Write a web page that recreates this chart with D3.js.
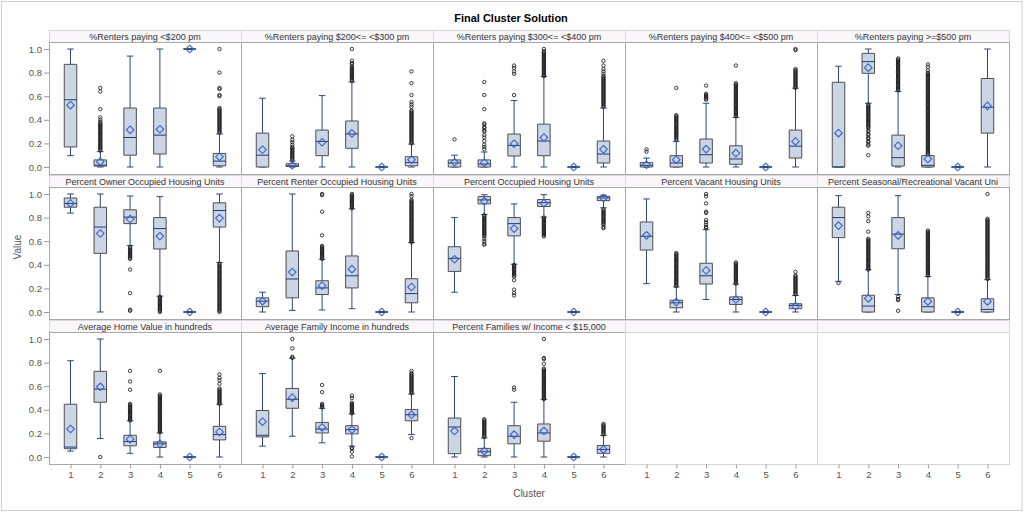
<!DOCTYPE html>
<html><head><meta charset="utf-8">
<script src="https://cdn.jsdelivr.net/npm/d3@7"></script>
<style>body{margin:0;background:#fff}svg{display:block;font-family:"Liberation Sans",Arial,sans-serif}</style>
</head><body><svg id="c" width="1024" height="512"></svg>
<script>
const chartTitle = "Final Cluster Solution";
const panelTitles = [
  "%Renters paying <$200 pm", "%Renters paying $200<= <$300 pm", "%Renters paying $300<= <$400 pm",
  "%Renters paying $400<= <$500 pm", "%Renters paying >=$500 pm",
  "Percent Owner Occupied Housing Units", "Percent Renter Occupied Housing Units", "Percent Occupied Housing Units",
  "Percent Vacant Housing Units", "Percent Seasonal/Recreational Vacant Uni",
  "Average Home Value in hundreds", "Average Family Income in hundreds", "Percent Families w/ Income < $15,000"
];
const clusters = [1, 2, 3, 4, 5, 6];
const yTicks = [0, 0.2, 0.4, 0.6, 0.8, 1.0];

const whiskerLow = [
  [.096, 0, 0, 0, 1.0, 0], [0, 0, 0, 0, 0, 0], [0, 0, 0, 0, 0, 0], [0, 0, 0, 0, 0, 0], [0, .54, 0, 0, 0, 0],
  [.838, 0, .564, .134, 0, .42], [0, .014, .017, .028, 0, 0], [.168, .827, .405, .804, 0, .883], [.24, 0, .106, 0, 0, 0], [.26, 0, .148, 0, 0, 0],
  [.05, .156, .031, 0, 0, 0], [.092, .176, .12, .092, 0, .19], [0, 0, 0, 0, 0, 0]
];
const q1 = [
  [.17, .008, .10, .11, 1.0, .01], [0, .004, .096, .158, 0, .01], [0, 0, .093, .096, 0, .034], [0, 0, .034, .023, 0, .076], [0, .794, .008, 0, 0, .287],
  [.888, .497, .749, .534, 0, .72], [.045, .12, .148, .204, 0, .078], [.344, .916, .645, .894, 0, .944], [.525, .036, .237, .064, 0, .028], [.63, 0, .536, 0, 0, 0],
  [.07, .464, .095, .081, 0, .145], [.17, .413, .204, .196, 0, .307], [.028, .011, .112, .134, 0, .031]
];
const median = [
  [.57, .015, .25, .27, 1.0, .05], [.1, .01, .217, .28, 0, .037], [.034, .025, .183, .22, 0, .11], [.014, .034, .104, .068, 0, .177], [0, .893, .079, .014, 0, .507],
  [.92, .72, .804, .707, 0, .86], [.092, .28, .204, .307, 0, .156], [.455, .95, .749, .927, 0, .966], [.642, .078, .307, .106, 0, .056], [.80, .05, .66, .045, 0, .022],
  [.084, .575, .131, .112, 0, .19], [.184, .489, .237, .232, 0, .358], [.254, .045, .176, .204, 0, .064]
];
const q3 = [
  [.87, .06, .50, .50, 1.0, .115], [.287, .028, .313, .39, 0, .087], [.06, .06, .279, .363, 0, .22], [.037, .096, .237, .18, 0, .313], [.718, .963, .27, .096, 0, .75],
  [.966, .888, .866, .80, 0, .925], [.12, .517, .265, .475, 0, .282], [.553, .978, .80, .953, 0, .98], [.763, .10, .413, .128, 0, .07], [.888, .142, .80, .12, 0, .112],
  [.447, .726, .184, .128, 0, .26], [.394, .581, .293, .265, 0, .402], [.33, .073, .265, .28, 0, .098]
];
const whiskerHigh = [
  [1.0, .13, .94, 1.0, 1.0, .28], [.583, .05, .605, .72, 0, .194], [.10, .127, .563, .766, 0, .50], [.076, .217, .54, .42, 0, .668], [.854, 1.0, .64, .10, 0, 1.0],
  [1.0, 1.0, .983, .978, 0, 1.0], [.168, 1.0, .447, .874, 0, .589], [.80, .994, .916, .994, 0, .99], [.958, .212, .698, .237, 0, .14], [.986, .358, .986, .30, 0, .274],
  [.816, 1.0, .307, .204, 0, .447], [.707, .838, .413, .366, 0, .534], [.682, .162, .464, .489, 0, .182]
];
const means = [
  [.524, .045, .315, .32, 1.0, .087], [.146, .015, .21, .285, 0, .062], [.04, .037, .197, .25, 0, .15], [.02, .062, .152, .118, 0, .217], [.287, .842, .18, .068, 0, .518],
  [.92, .665, .788, .642, 0, .796], [.092, .338, .223, .363, 0, .212], [.447, .94, .707, .922, 0, .966], [.65, .084, .352, .106, 0, .05], [.732, .115, .65, .09, 0, .09],
  [.237, .595, .151, .112, 0, .212], [.299, .503, .251, .232, 0, .358], [.22, .05, .19, .22, 0, .064]
];
const outliers = [
  [[], [.14,.15,.16,.17,.18,.19,.20,.21,.22,.23,.24,.25,.26,.27,.28,.29,.30,.31,.32,.33,.34,.35,.36,.37,.38,.40,.42,.49,.64,.67], [], [], [],
   [.29,.30,.31,.32,.33,.34,.35,.36,.37,.38,.39,.40,.41,.42,.43,.44,.45,.46,.47,.48,.49,.50,.60,.61,.66,.67,.80,1.0]],
  [[], [.06,.07,.08,.09,.10,.11,.12,.13,.14,.15,.16,.17,.19,.21,.23,.26], [],
   [.73,.74,.75,.76,.77,.78,.79,.80,.81,.82,.83,.84,.85,.87,.88,.90,1.0], [],
   [.20,.21,.22,.23,.24,.25,.26,.27,.28,.29,.30,.31,.32,.33,.34,.35,.36,.37,.38,.39,.40,.41,.42,.43,.44,.45,.46,.47,.48,.51,.53,.55,.61,.71,.81]],
  [[.234], [.15,.17,.19,.22,.25,.27,.30,.31,.33,.34,.36,.37,.49,.61,.72], [.61,.79,.81,.84,.86],
   [.77,.78,.79,.80,.81,.82,.83,.84,.85,.86,.87,.88,.89,.90,.91,.92,.93,.94,.95,.96,.97,.98,1.0], [],
   [.51,.52,.53,.54,.55,.56,.57,.58,.59,.60,.61,.62,.63,.64,.65,.66,.67,.68,.69,.70,.71,.72,.73,.74,.75,.76,.77,.79,.81,.83,.86,.90]],
  [[.13,.15], [.23,.24,.25,.26,.27,.28,.29,.30,.31,.32,.33,.34,.35,.36,.37,.38,.39,.40,.41,.42,.43,.44,.67], [.57,.58,.59,.60,.61,.62,.69],
   [.43,.44,.45,.46,.47,.48,.49,.50,.51,.52,.53,.54,.55,.56,.57,.58,.59,.60,.61,.62,.63,.64,.65,.66,.67,.68,.69,.70,.71,.86], [],
   [.67,.68,.69,.70,.71,.72,.73,.74,.75,.76,.77,.78,.79,.80,.81,.82,.83,.99,1.0]],
  [[], [.10,.18,.19,.21,.22,.24,.25,.27,.28,.30,.31,.33,.34,.35,.36,.37,.38,.39,.40,.41,.42,.43,.44,.45,.46,.47,.48,.49,.50,.51,.52,.53],
   [.65,.66,.67,.68,.69,.70,.71,.72,.73,.74,.75,.76,.77,.78,.79,.80,.81,.82,.83,.84,.85,.86,.87,.88,.89,.90,.91,.92],
   [.11,.12,.13,.14,.15,.16,.17,.18,.19,.20,.21,.22,.23,.24,.25,.26,.27,.28,.29,.30,.31,.32,.33,.34,.35,.36,.37,.38,.39,.40,.41,.42,.43,.44,.45,.46,.47,.48,.49,.50,.51,.52,.53,.54,.55,.56,.57,.58,.59,.60,.61,.62,.63,.64,.65,.66,.67,.68,.69,.70,.71,.72,.73,.74,.75,.76,.77,.78,.79,.80,.82,.85,.87],
   [], []],
  [[], [], [.01,.02,.16,.36,.45,.46,.47,.48,.49,.50,.51,.52,.53,.54,.55],
   [0,.01,.02,.03,.04,.05,.06,.07,.08,.09,.10,.11,.12,.13], [],
   [0,.01,.02,.03,.04,.05,.06,.07,.08,.09,.10,.11,.12,.13,.14,.15,.16,.17,.18,.19,.20,.21,.22,.23,.24,.25,.26,.27,.28,.29,.30,.31,.32,.33,.34,.35,.36,.37,.38,.39,.40,.41]],
  [[], [], [.45,.46,.47,.48,.49,.50,.51,.52,.53,.54,.55,.56,.65,.85,.99,1.0],
   [.88,.89,.90,.91,.92,.93,.94,.95,.96,.97,.98,.99,1.0], [],
   [.59,.60,.61,.62,.63,.64,.65,.66,.67,.68,.69,.70,.71,.72,.73,.74,.75,.76,.77,.78,.79,.80,.81,.82,.83,.84,.85,.86,.87,.88,.89,.90,.91,.92,.93,.94,.95,.98,1.0]],
  [[], [.57,.58,.60,.62,.64,.65,.66,.67,.68,.69,.70,.71,.72,.73,.74,.75,.76,.77,.78,.79,.80,.81,.82],
   [.14,.16,.19,.27,.30,.31,.32,.33,.34,.35,.36,.37,.38,.39,.40],
   [.64,.65,.66,.67,.68,.69,.70,.71,.72,.73,.74,.75,.76,.77,.78,.79,.80], [],
   [.71,.72,.74,.75,.76,.77,.78,.79,.80,.81,.82,.83,.84,.85,.86,.87]],
  [[], [.22,.23,.24,.25,.26,.27,.28,.29,.30,.31,.32,.33,.34,.35,.36,.37,.38,.39,.40,.41,.42,.43,.44,.45,.46,.47,.48,.49,.50],
   [.71,.72,.74,.76,.78,.84,.85,.92,.98,1.0],
   [.24,.25,.26,.27,.28,.29,.30,.31,.32,.33,.34,.35,.36,.37,.38,.39,.40,.41,.42], [],
   [.15,.16,.17,.18,.19,.20,.21,.22,.23,.24,.25,.26,.27,.28,.29,.30,.31,.34]],
  [[.245], [.36,.37,.38,.39,.40,.41,.42,.43,.44,.45,.46,.47,.48,.49,.50,.51,.52,.53,.54,.55,.56,.57,.58,.59,.60,.61,.62,.68,.77,.81,.84],
   [.01,.10,.11,.13],
   [.31,.32,.33,.34,.35,.36,.37,.38,.39,.40,.41,.42,.43,.44,.45,.46,.47,.48,.49,.50,.51,.52,.53,.54,.55,.56,.57,.58,.59,.60,.61,.62,.63,.64,.65,.66,.67,.68,.69], [],
   [.28,.29,.30,.31,.32,.33,.34,.35,.36,.37,.38,.39,.40,.41,.42,.43,.44,.45,.46,.47,.48,.49,.50,.51,.52,.53,.54,.55,.56,.57,.58,.59,.60,.61,.62,.63,.64,.65,.66,.67,.68,.69,.70,.71,.72,.73,.74,.75,.76,.77,.78,.79,1.0]],
  [[], [0], [.31,.32,.33,.34,.35,.36,.37,.38,.39,.40,.41,.42,.43,.44,.45,.57,.64,.73],
   [.21,.22,.23,.24,.25,.26,.27,.28,.29,.30,.31,.32,.33,.34,.35,.36,.37,.38,.39,.40,.41,.42,.43,.44,.45,.46,.47,.48,.49,.50,.51,.52,.53,.73], [],
   [.45,.46,.47,.48,.49,.50,.51,.52,.53,.54,.55,.56,.57,.58,.62,.65,.67,.70]],
  [[], [.84,.85,.92,1.0], [.42,.43,.44,.45,.55,.61],
   [.005,.045,.07,.08,.37,.38,.39,.40,.41,.42,.43,.44,.45,.46,.50,.52], [],
   [.16,.54,.55,.56,.57,.58,.59,.60,.61,.62,.63,.64,.65,.66,.67,.68,.69,.70,.71,.73]],
  [[], [.17,.18,.19,.20,.21,.22,.23,.24,.25,.26,.27,.28,.29,.30,.31,.32], [.57,.59],
   [.49,.50,.51,.52,.53,.54,.55,.56,.57,.58,.59,.60,.61,.62,.63,.64,.65,.66,.67,.68,.69,.70,.71,.72,.73,.74,.75,.79,.83,.84,1.0], [],
   [.19,.20,.21,.22,.23,.24,.25,.26,.27,.28]]
];

const svg = d3.select("#c");
const gridLeft = 49, colW = 192, nCols = 5;
const rowTops = [30, 175, 320];
const headH = 12, plotH = 132;

const C = {
  box: "#CAD5E6", boxStroke: "#4d4d4d", whisker: "#2a4782", median: "#1f3a78",
  mean: "#3a62c8", outlier: "#1a1a1a", panel: "#a8a8a8", panelEmpty: "#d6d6d6",
  head: "#faf7fb", headStroke: "#d9d9d9", text: "#333", tick: "#555"
};

svg.append("rect").attr("x", 1.5).attr("y", 1.5).attr("width", 1020.5).attr("height", 509)
  .attr("fill", "#fff").attr("stroke", "#cfcfcf");

svg.append("text").attr("x", 511).attr("y", 22).attr("text-anchor", "middle")
  .attr("font-size", 11).attr("font-weight", "bold").attr("fill", "#000").text(chartTitle);

svg.append("text").attr("transform", "translate(21,247) rotate(-90)").attr("text-anchor", "middle")
  .attr("font-size", 10).attr("fill", C.tick).text("Value");
svg.append("text").attr("x", 529).attr("y", 497).attr("text-anchor", "middle")
  .attr("font-size", 10).attr("fill", C.tick).text("Cluster");

const boxHalf = 6.25, capHalf = 3.3;

for (let r = 0; r < 3; r++) {
  const top = rowTops[r], pTop = top + headH;
  const y = d3.scaleLinear().domain([0, 1]).range([pTop + plotH - 7, pTop + 7]);
  for (let c = 0; c < nCols; c++) {
    const p = r * nCols + c;
    const left = gridLeft + c * colW;
    const has = p < panelTitles.length;
    const x = d3.scalePoint().domain(clusters).range([left + 21.5, left + 170.5]);
    const g = svg.append("g");
    g.append("rect").attr("x", left + 0.5).attr("y", top + 0.5).attr("width", colW).attr("height", headH)
      .attr("fill", C.head).attr("stroke", C.headStroke);
    g.append("rect").attr("x", left + 0.5).attr("y", pTop + 0.5).attr("width", colW).attr("height", plotH)
      .attr("fill", "#fff").attr("stroke", has ? C.panel : C.panelEmpty);
    if (has) {
      g.append("text").attr("x", left + colW / 2).attr("y", top + 9.5).attr("text-anchor", "middle")
        .attr("font-size", 9).attr("fill", C.text).text(panelTitles[p]);
      clusters.forEach((k, i) => {
        const cx = x(k);
        const bg = g.append("g");
        bg.append("line").attr("x1", cx).attr("x2", cx).attr("y1", y(q3[p][i])).attr("y2", y(whiskerHigh[p][i]))
          .attr("stroke", C.whisker).attr("stroke-width", 1);
        bg.append("line").attr("x1", cx).attr("x2", cx).attr("y1", y(q1[p][i])).attr("y2", y(whiskerLow[p][i]))
          .attr("stroke", C.whisker).attr("stroke-width", 1);
        [whiskerHigh[p][i], whiskerLow[p][i]].forEach(v => {
          bg.append("line").attr("x1", cx - capHalf).attr("x2", cx + capHalf).attr("y1", y(v)).attr("y2", y(v))
            .attr("stroke", C.whisker).attr("stroke-width", 1);
        });
        const yt = y(q3[p][i]), yb = y(q1[p][i]);
        bg.append("path").attr("d", `M${cx - boxHalf},${yt}H${cx + boxHalf}V${yb}H${cx - boxHalf}Z`)
          .attr("fill", C.box).attr("stroke", C.boxStroke).attr("stroke-width", 1);
        bg.append("line").attr("x1", cx - boxHalf).attr("x2", cx + boxHalf)
          .attr("y1", y(median[p][i])).attr("y2", y(median[p][i]))
          .attr("stroke", C.median).attr("stroke-width", 1);
        bg.selectAll("circle").data(outliers[p][i]).enter().append("circle")
          .attr("cx", cx).attr("cy", d => y(d)).attr("r", 1.7)
          .attr("fill", "none").attr("stroke", C.outlier).attr("stroke-width", 0.85);
        const my = y(means[p][i]), d = 3.8;
        bg.append("path").attr("d", `M${cx},${my - d}L${cx + d},${my}L${cx},${my + d}L${cx - d},${my}Z`)
          .attr("fill", "none").attr("stroke", C.mean).attr("stroke-width", 1.1);
      });
    }
    if (c === 0) {
      const ax = svg.append("g").attr("transform", `translate(${left},0)`)
        .call(d3.axisLeft(y).tickValues(yTicks).tickFormat(d3.format(".1f")).tickSize(5).tickPadding(2));
      ax.select(".domain").remove();
      ax.selectAll("line").attr("stroke", "#999");
      ax.selectAll("text").attr("font-size", 9.5).attr("fill", C.tick).attr("font-family", "Liberation Sans,Arial,sans-serif");
    }
    if (r === 2) {
      const ax = svg.append("g").attr("transform", `translate(0,${pTop + plotH + 0.5})`)
        .call(d3.axisBottom(x).tickSize(4).tickPadding(3));
      ax.select(".domain").remove();
      ax.selectAll("line").attr("stroke", "#999");
      ax.selectAll("text").attr("font-size", 9.5).attr("fill", C.tick).attr("font-family", "Liberation Sans,Arial,sans-serif");
    }
  }
}
</script></body></html>
